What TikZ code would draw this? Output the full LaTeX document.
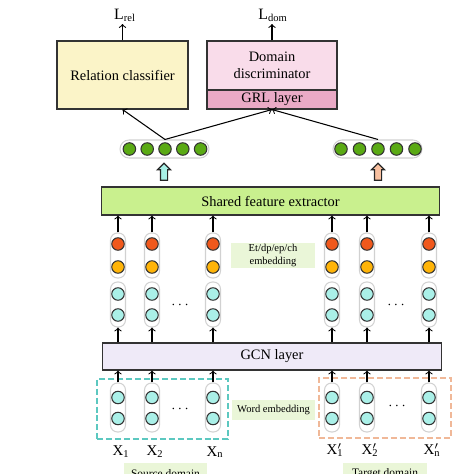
\documentclass[tikz,border=0pt]{standalone}
\usepackage{fontspec}
\setmainfont{Liberation Serif}
\usetikzlibrary{shapes,arrows,positioning,calc}
\definecolor{relbg}{HTML}{FBF4C8}
\definecolor{dombg}{HTML}{F9DCEA}
\definecolor{grlbg}{HTML}{EAAAC6}
\definecolor{sfebg}{HTML}{C9F08E}
\definecolor{gcnbg}{HTML}{EFEAF8}
\definecolor{tagbg}{HTML}{EAF6D8}
\definecolor{greenc}{HTML}{5AAA14}
\definecolor{redc}{HTML}{F0581C}
\definecolor{amberc}{HTML}{FFB408}
\definecolor{cyanc}{HTML}{AAF0E8}
\definecolor{srcline}{HTML}{5CC8C0}
\definecolor{tgtline}{HTML}{F0B898}
\definecolor{srcarrow}{HTML}{A8F0E6}
\definecolor{tgtarrow}{HTML}{F8C0A0}

\begin{document}
\begin{tikzpicture}[x=0.02cm, y=-0.02cm, line width=0.6pt,
  box/.style={draw=black!80, inner sep=0pt, align=center, font=\fontsize{8.2}{9.6}\selectfont},
  capsule/.style={draw=black!18, fill=white, rounded corners=0.14cm, minimum width=0.3cm, inner sep=0pt},
  unit/.style={circle, draw=black!80, inner sep=0pt, minimum size=0.25cm},
  tag/.style={fill=tagbg, inner sep=0pt, align=center, font=\fontsize{6}{7.2}\selectfont},
  blockarrow/.style={single arrow, draw=black!85, line width=0.7pt, shape border rotate=90, inner sep=0.06cm, single arrow head extend=0.06cm, minimum height=0.34cm},
  label/.style={inner sep=1pt, font=\fontsize{8.5}{10}\selectfont}]
  \useasboundingbox (0,0) rectangle (474,474);

  % Classifier and discriminator
  \node[box, fill=relbg, minimum width=2.62cm, minimum height=1.36cm] (rc) at (122.5,75) {Relation classifier};
  \node[box, fill=dombg, minimum width=2.6cm, minimum height=0.98cm] (dd) at (272,65.5) {Domain\\discriminator};
  \node[box, fill=grlbg, minimum width=2.6cm, minimum height=0.38cm] (grl) at (272,99.5) {GRL layer};

  % Losses
  \node[label, anchor=south, font=\fontsize{9}{10}\selectfont] (lrel) at (125,24) {L\textsubscript{rel}};
  \node[label, anchor=south, font=\fontsize{9}{10}\selectfont] (ldom) at (273,24) {L\textsubscript{dom}};
  \draw[->] (rc.north) -- (rc.north |- lrel.south);
  \draw[->] (dd.north) -- (dd.north |- ldom.south);

  % Feature vectors of both domains
  \node[capsule, minimum width=1.78cm, minimum height=0.36cm, rounded corners=0.18cm] (fs) at (164.5,149) {};
  \node[capsule, minimum width=1.78cm, minimum height=0.36cm, rounded corners=0.18cm] (ft) at (377.5,149) {};
  \foreach \k in {1,...,5} {
    \node[unit, fill=greenc] (fs\k) at ({165+(\k-3)*17.8},149) {};
    \node[unit, fill=greenc] (ft\k) at ({378+(\k-3)*18.5},149) {};
  }
  \draw[->] (fs3 |- fs.north) -- (rc.south);
  \draw[->] (fs3 |- fs.north) -- (grl.south);
  \draw[->] (ft3 |- ft.north) -- (grl.south);

  % Block arrows
  \node[blockarrow, fill=srcarrow] (ups) at (164,173.5) {};
  \node[blockarrow, fill=tgtarrow] (upt) at (378,173.5) {};

  % Shared layers
  \node[box, fill=sfebg, minimum width=6.78cm, minimum height=0.56cm] (sfe) at (270.5,201) {Shared feature extractor};
  \node[box, fill=gcnbg, minimum width=6.8cm, minimum height=0.54cm] (gcn) at (272,356.5) {GCN layer};

  % Domain frames
  \node[draw=srcline, dashed, dash pattern=on 3.4pt off 1.7pt, minimum width=2.62cm, minimum height=1.2cm] (src) at (162.5,409) {};
  \node[draw=tgtline, dashed, dash pattern=on 3.4pt off 1.7pt, minimum width=2.64cm, minimum height=1.2cm] (tgt) at (385,408) {};

  % Columns
  \foreach \i/\x in {1/118,2/152,3/213,4/332,5/367,6/429} {
    \node[capsule, minimum height=0.9cm] (u\i) at (\x,255.5) {};
    \node[unit, fill=redc] (ua\i) at (\x,244) {};
    \node[unit, fill=amberc] (ub\i) at (\x,267) {};
    \node[capsule, minimum height=0.9cm] (l\i) at (\x,304.5) {};
    \node[unit, fill=cyanc] (la\i) at (\x,294) {};
    \node[unit, fill=cyanc] (lb\i) at (\x,315) {};
    \node[capsule, minimum height=0.98cm] (w\i) at (\x,407.5) {};
    \node[unit, fill=cyanc] (wa\i) at (\x,397.5) {};
    \node[unit, fill=cyanc] (wb\i) at (\x,418.5) {};
    \draw[->] (u\i.north) -- (u\i.north |- sfe.south);
    \draw[->] (l\i.south |- gcn.north) -- (l\i.south);
    \draw[->] (w\i.north) -- (w\i.north |- gcn.south);
  }

  % Ellipses
  \node[label] (dl1) at (180,305) {$\cdots$};
  \node[label] (dl2) at (396,305) {$\cdots$};
  \node[label] (dw1) at (180,409) {$\cdots$};
  \node[label] (dw2) at (397,406) {$\cdots$};

  % Tags
  \node[tag, minimum width=1.68cm, minimum height=0.5cm] (et) at (273,255.5) {Et/dp/ep/ch\\embedding};
  \node[tag, minimum width=1.66cm, minimum height=0.4cm] (we) at (273.5,410) {Word embedding};
  \node[tag, font=\fontsize{6.5}{7.5}\selectfont, minimum width=1.66cm, minimum height=0.44cm] (sd) at (165.5,474) {Source domain};
  \node[tag, font=\fontsize{6.5}{7.5}\selectfont, minimum width=1.68cm, minimum height=0.44cm] (td) at (385,474) {Target domain};

  % Inputs
  \node[label] (x1) at (121,452) {X\textsubscript{1}};
  \node[label] (x2) at (155,452) {X\textsubscript{2}};
  \node[label] (xn) at (215,452) {X\textsubscript{n}};
  \node[label] (y1) at (335,450) {X\rlap{\textsuperscript{$\prime$}}\textsubscript{1}};
  \node[label] (y2) at (370,450) {X\rlap{\textsuperscript{$\prime$}}\textsubscript{2}};
  \node[label] (yn) at (432,450) {X\rlap{\textsuperscript{$\prime$}}\textsubscript{n}};
\end{tikzpicture}
\end{document}
